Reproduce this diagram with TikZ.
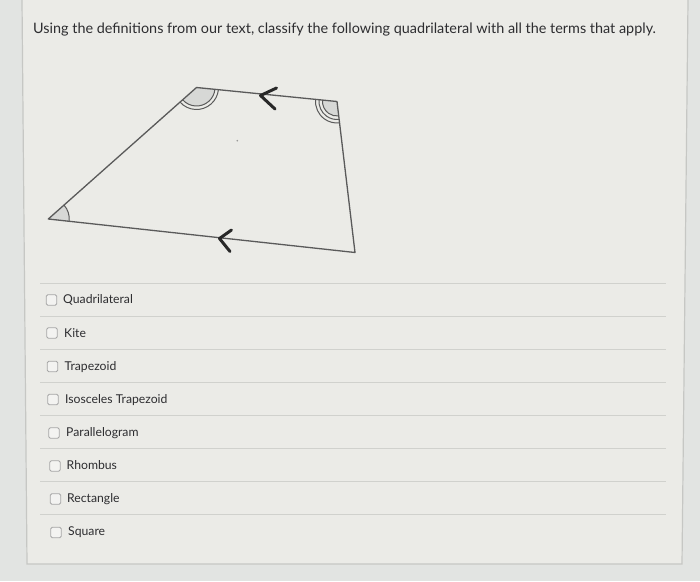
\documentclass[tikz,border=0pt]{standalone}
\usepackage{fontspec}
\setmainfont{Lato}
\usetikzlibrary{calc}
\definecolor{bgc}{RGB}{235,235,231}
\definecolor{outc}{RGB}{226,228,226}
\definecolor{framec}{RGB}{198,199,196}
\definecolor{sepc}{RGB}{208,209,205}
\definecolor{edgec}{RGB}{90,90,90}
\definecolor{markc}{RGB}{40,40,40}
\definecolor{fillc}{RGB}{215,216,214}
\definecolor{txtc}{RGB}{45,45,48}
\tikzset{
  edge/.style={draw=edgec, line width=1.3pt, line join=round},
  angarc/.style={draw=edgec, line width=1pt},
  chev/.style={draw=markc, line width=3pt, line cap=round, line join=round},
  sep/.style={draw=sepc, line width=0.9pt},
  cbox/.style={draw=gray!70, line width=0.8pt, rounded corners=1.5pt, minimum width=10.5pt, minimum height=10.5pt, inner sep=0pt, fill=bgc!60!white},
  opt/.style={anchor=base west, inner sep=0pt, font=\fontsize{12.2}{14}\selectfont, text=txtc},
}
\begin{document}
\begin{tikzpicture}[x=1pt,y=-1pt]
\useasboundingbox (0,0) rectangle (700,581);
\fill[outc] (0,0) rectangle (700,581);
\fill[bgc] (22,0) -- (688,0) -- (682,564) -- (27,564) -- cycle;
\draw[framec, line width=1.2pt] (22,0) -- (27,564) -- (682,564) -- (688,0);
% title
\node[anchor=base west, inner sep=0pt, font=\fontsize{14.4}{16}\selectfont, text=txtc] (title) at (33,33) {Using the definitions from our text, classify the following quadrilateral with all the terms that apply.};
% quadrilateral vertices
\coordinate (A) at (48.3,219);
\coordinate (B) at (196.5,87.5);
\coordinate (C) at (337,101.5);
\coordinate (D) at (355,252.5);
% angle fills
\fill[fillc] (A) -- ++(-6.2:21pt) arc[start angle=-6.2, end angle=41.6, radius=21pt] -- cycle;
\fill[fillc] (B) -- ++(221.6:18.5pt) arc[start angle=221.6, end angle=354.3, radius=18.5pt] -- cycle;
\fill[fillc] (C) -- ++(174.3:14.5pt) arc[start angle=174.3, end angle=276.8, radius=14.5pt] -- cycle;
% angle arcs
\draw[angarc] (A) ++(-6.2:21pt) arc[start angle=-6.2, end angle=41.6, radius=21pt];
\draw[angarc] (B) ++(221.6:18.5pt) arc[start angle=221.6, end angle=354.3, radius=18.5pt];
\draw[angarc] (B) ++(221.6:22pt) arc[start angle=221.6, end angle=354.3, radius=22pt];
\draw[angarc] (C) ++(174.3:14.5pt) arc[start angle=174.3, end angle=276.8, radius=14.5pt];
\draw[angarc] (C) ++(174.3:18pt) arc[start angle=174.3, end angle=276.8, radius=18pt];
\draw[angarc] (C) ++(174.3:21.5pt) arc[start angle=174.3, end angle=276.8, radius=21.5pt];
% sides
\draw[edge] (A) -- (B) -- (C) -- (D) -- cycle;
% parallel marks
\coordinate (t1) at (276.5,88);
\coordinate (t2) at (260.5,95.5);
\coordinate (t3) at (275,109);
\draw[chev] (t1) -- (t2) -- (t3);
\coordinate (b1) at (231.5,230);
\coordinate (b2) at (219.5,238.5);
\coordinate (b3) at (230,251.5);
\draw[chev] (b1) -- (b2) -- (b3);
% speck
\fill[gray!80] (237.3,140.7) circle[radius=0.9pt];
% separators
\foreach \y/\n in {283/s1,316/s2,349/s3,382/s4,415/s5,448.5/s6,481.5/s7,514.5/s8}{
  \coordinate (\n a) at (40,\y);
  \coordinate (\n b) at (666,\y);
  \draw[sep] (\n a) -- (\n b);
}
% options
\node[cbox] (c1) at (51.5,300) {};
\node[opt] (o1) at (63,303.5) {Quadrilateral};
\node[cbox] (c2) at (52,333) {};
\node[opt] (o2) at (64,337) {Kite};
\node[cbox] (c3) at (52.5,366.5) {};
\node[opt] (o3) at (64.5,370) {Trapezoid};
\node[cbox] (c4) at (53,399.5) {};
\node[opt] (o4) at (65,403) {Isosceles Trapezoid};
\node[cbox] (c5) at (54,433) {};
\node[opt] (o5) at (66,436.5) {Parallelogram};
\node[cbox] (c6) at (55,466) {};
\node[opt] (o6) at (66.5,469.5) {Rhombus};
\node[cbox] (c7) at (55.5,499) {};
\node[opt] (o7) at (67,502.5) {Rectangle};
\node[cbox] (c8) at (56,532.5) {};
\node[opt] (o8) at (68,535.5) {Square};
\end{tikzpicture}
\end{document}
